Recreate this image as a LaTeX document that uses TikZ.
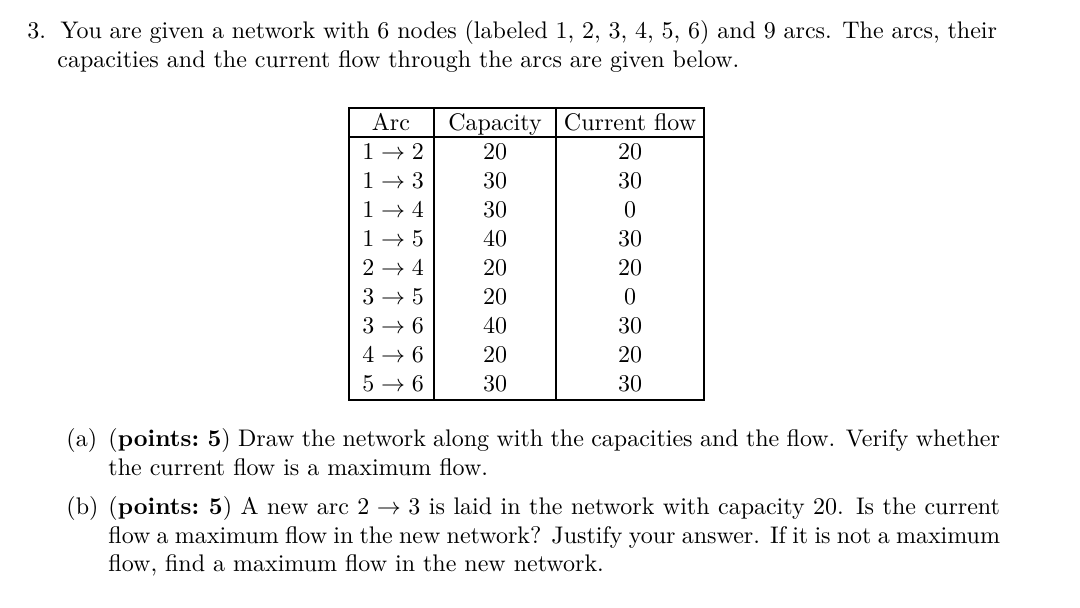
\documentclass[tikz,border=0pt]{standalone}
\usepackage{amsmath}
\begin{document}
\begin{tikzpicture}[x=0.4167pt,y=-0.4167pt,
  txt/.style={anchor=base west,inner sep=0pt},
  cell/.style={anchor=base,inner sep=0pt},
  rule/.style={line width=0.5pt}]
\useasboundingbox (0,0) rectangle (1080,608);
\node[txt] (l1) at (27,38) {\makebox[404pt][s]{3.\hspace{0.6em}You are given a network with 6 nodes (labeled 1, 2, 3, 4, 5, 6) and 9 arcs. The arcs, their}};
\node[txt] (l2) at (57,67) {capacities and the current flow through the arcs are given below.};
% table
\draw[rule] (349,108) rectangle (704,400);
\draw[rule] (349,137) -- (704,137);
\draw[rule] (434,108) -- (434,400);
\draw[rule] (556,108) -- (556,400);
\node[cell] (h1) at (391,130) {Arc};
\node[cell] (h2) at (495,130) {Capacity};
\node[cell] (h3) at (630,130) {Current flow};
\foreach \a/\b/\c/\f [count=\i] in {1/2/20/20,1/3/30/30,1/4/30/0,1/5/40/30,2/4/20/20,3/5/20/0,3/6/40/30,4/6/20/20,5/6/30/30}{
  \pgfmathsetmacro\yy{159+(\i-1)*29}
  \node[txt] (a\i) at (362,\yy) {$\a\rightarrow\b$};
  \node[cell] (c\i) at (495,\yy) {\c};
  \node[cell] (f\i) at (630,\yy) {\f};
}
\node[txt] (pa) at (66,446) {(a)};
\node[txt] (a1l) at (108,446) {\makebox[371.5pt][s]{(\textbf{points:\ 5}) Draw the network along with the capacities and the flow. Verify whether}};
\node[txt] (a2l) at (108,475) {the current flow is a maximum flow.};
\node[txt] (pb) at (66,514) {(b)};
\node[txt] (b1l) at (108,514) {\makebox[371.5pt][s]{(\textbf{points:\ 5}) A new arc $2\rightarrow3$ is laid in the network with capacity 20. Is the current}};
\node[txt] (b2l) at (108,543) {\makebox[371.5pt][s]{flow a maximum flow in the new network? Justify your answer. If it is not a maximum}};
\node[txt] (b3l) at (108,571) {flow, find a maximum flow in the new network.};
\end{tikzpicture}
\end{document}
